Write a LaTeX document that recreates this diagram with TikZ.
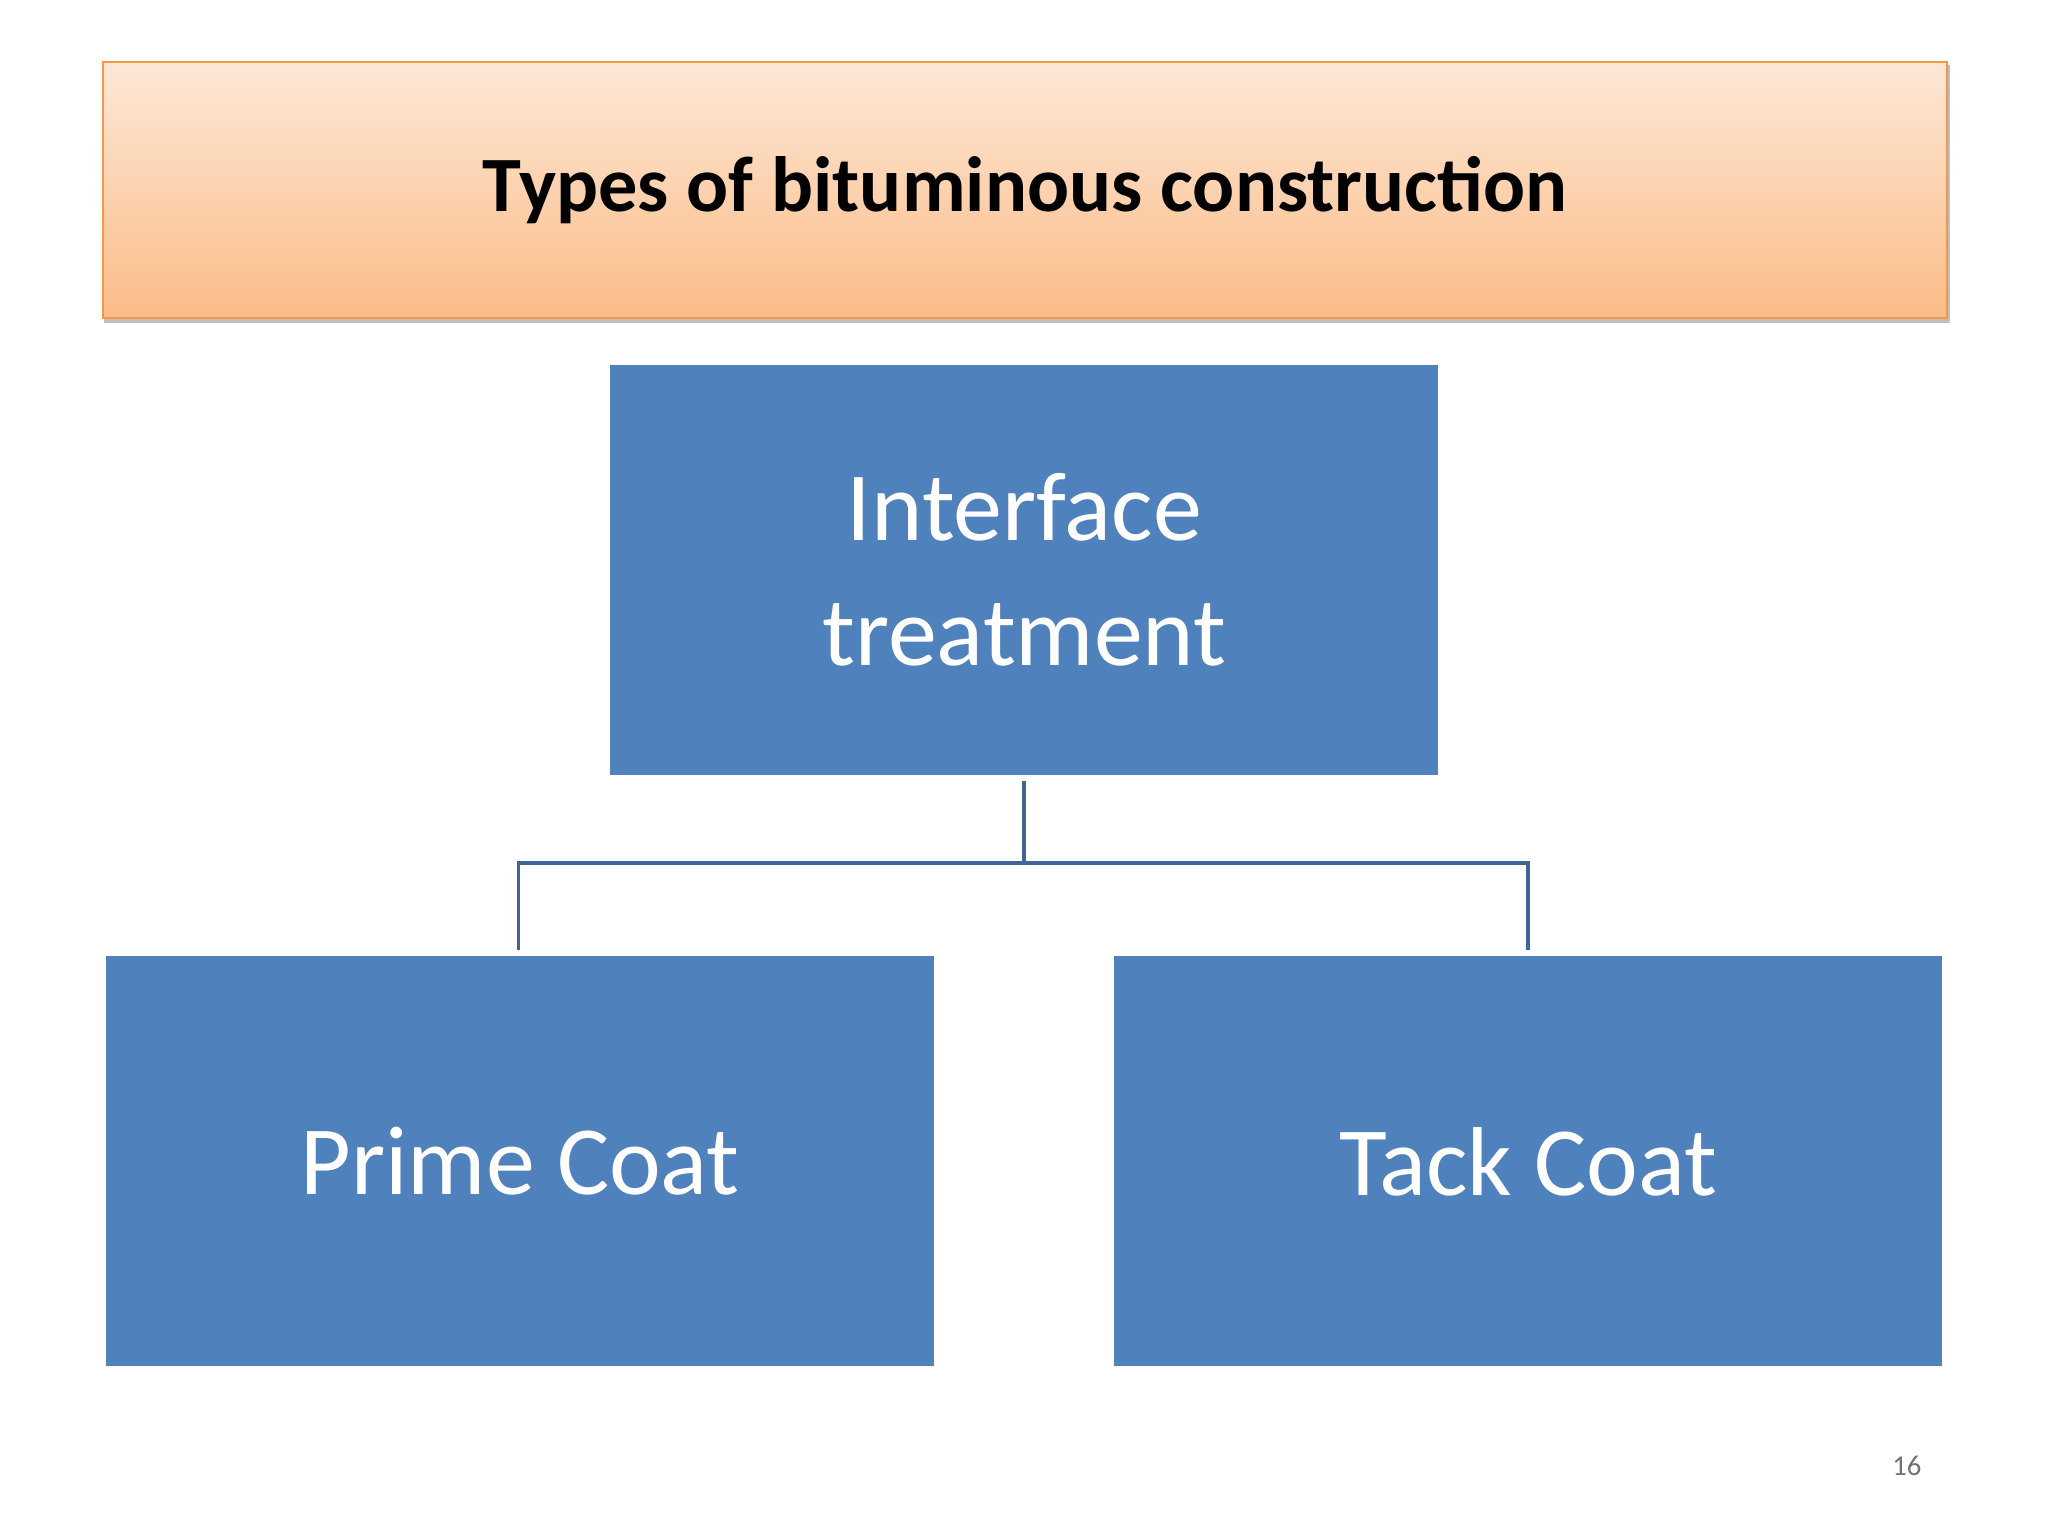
\documentclass[tikz,border=0pt]{standalone}
\usepackage{fontspec}
\setmainfont{Carlito}
\definecolor{boxblue}{HTML}{4F81BD}
\definecolor{lineblue}{HTML}{3E6699}
\definecolor{orborder}{HTML}{F79646}
\definecolor{ortop}{HTML}{FDE8D6}
\definecolor{orbot}{HTML}{FBBC88}
\tikzset{
  bluebox/.style={fill=boxblue,draw=none,text=white,minimum width=634pt,minimum height=314pt,anchor=north west,inner sep=0pt,align=center,font=\fontsize{75}{95}\selectfont},
  conn/.style={draw=lineblue,line width=3pt}
}
\begin{document}
\begin{tikzpicture}[x=1pt,y=-1pt]
\useasboundingbox[fill=white] (0,0) rectangle (1568,1176);
\fill[black!25] (80,50) rectangle (1493,247);
\node[anchor=north west,minimum width=1412pt,minimum height=196pt,inner sep=0pt,top color=ortop,bottom color=orbot,draw=orborder,line width=1.5pt] (title) at (78,47) {};
\node[font=\bfseries\fontsize{60}{72}\selectfont] at (title.center) {Types of bituminous construction};
\node[bluebox] (it) at (467,279) {Interface\\treatment};
\node[bluebox] (pc) at (81,732) {Prime Coat};
\node[bluebox] (tc) at (853,732) {Tack Coat};
\coordinate (a) at (784,598);
\coordinate (m) at (784,661);
\coordinate (l) at (397,727);
\coordinate (r) at (1170,727);
\draw[conn] (a) -- (m);
\draw[conn] (l) |- (m) -| (r);
\node[text=black!55,font=\fontsize{22}{26}\selectfont] (pg) at (1460,1122) {16};
\end{tikzpicture}
\end{document}
